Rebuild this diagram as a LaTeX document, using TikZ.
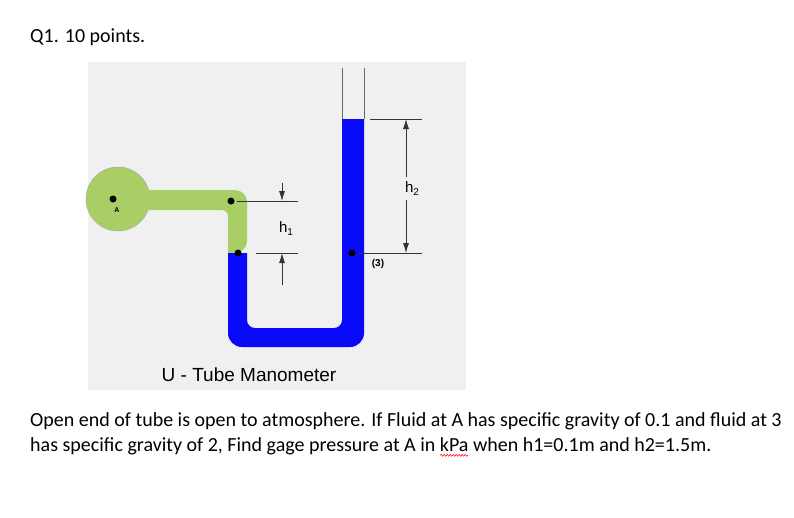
\documentclass[tikz,border=0pt]{standalone}
\usepackage{fontspec}
\setmainfont{Carlito}
\newfontfamily\arialf{Liberation Sans}
\usetikzlibrary{arrows.meta,decorations.pathmorphing}
\definecolor{bgg}{RGB}{240,240,240}
\definecolor{lgreen}{RGB}{170,206,102}
\definecolor{tblue}{RGB}{10,10,250}
\newcommand{\mysub}[1]{\raisebox{-3pt}{\fontsize{10}{11}\selectfont #1}}
\begin{document}
\begin{tikzpicture}[x=1pt,y=-1pt,
  wall/.style={draw=black!60,line width=0.8pt},
  dim/.style={draw=black!80,line width=0.8pt},
  arr/.style={dim,-{Latex[length=10pt,width=6pt]}},
  dot/.style={circle,fill=black,inner sep=0pt,minimum size=7pt},
  lbl/.style={font=\arialf\fontsize{15}{17}\selectfont,inner sep=0pt}]
\useasboundingbox[fill=white] (0,0) rectangle (794,517);
\fill[bgg] (88,62) rectangle (466,390);
% green
\fill[lgreen,draw=black!35,line width=0.4pt] (118,199) circle (32);
\fill[lgreen] (140,190) [rounded corners=12]-- (247,190) -- (247,253) [sharp corners]-- (228,253) [rounded corners=6]-- (228,210) -- (140,210) -- cycle;
% blue
\fill[tblue] (228,253) [rounded corners=14]-- (228,347) -- (364,347) [sharp corners]-- (364,119) -- (342,119) [rounded corners=8]-- (342,328) -- (247,328) [sharp corners]-- (247,253) -- cycle;
\draw[wall] (342,68) -- (342,119);
\draw[wall] (364,68) -- (364,119);
% dots
\node[dot] (A) at (113,199) {};
\node[lbl,font=\arialf\bfseries\fontsize{7}{8}\selectfont] (Al) at (117,210) {A};
\node[dot] (p1) at (231,201) {};
\node[dot] (p2) at (238,253) {};
\node[dot] (p3) at (352,253) {};
% h1
\coordinate (t1a) at (237,201); \coordinate (t1b) at (298,201);
\coordinate (b1a) at (256,253); \coordinate (b1b) at (298,253);
\draw[dim] (t1a) -- (t1b);
\draw[dim] (b1a) -- (b1b);
\coordinate (h1s) at (282,183); \coordinate (h1e) at (282,201);
\coordinate (h1s2) at (282,285); \coordinate (h1e2) at (282,253);
\draw[arr] (h1s) -- (h1e);
\draw[arr] (h1s2) -- (h1e2);
\node[lbl] (h1) at (286,229) {h\mysub{1}};
% h2
\coordinate (t2a) at (370,119); \coordinate (t2b) at (422,119);
\coordinate (b2a) at (358,253); \coordinate (b2b) at (422,253);
\draw[dim] (t2a) -- (t2b);
\draw[dim] (b2a) -- (b2b);
\node[lbl] (h2) at (412,189) {h\mysub{2}};
\coordinate (u1) at (406,177); \coordinate (u2) at (406,119);
\coordinate (d1) at (406,200); \coordinate (d2) at (406,253);
\draw[arr] (u1) -- (u2);
\draw[arr] (d1) -- (d2);
\node[lbl,font=\arialf\bfseries\fontsize{10}{12}\selectfont] (l3) at (378,264) {(3)};
\node[font=\arialf\fontsize{19}{22}\selectfont,inner sep=0pt] (title) at (249,375) {U - Tube Manometer};
% texts
\node[anchor=west,inner sep=0pt,font=\fontsize{20}{24}\selectfont] (q) at (30,37) {Q1. 10 points.};
\node[anchor=west,inner sep=0pt,font=\fontsize{20}{24}\selectfont] (p1t) at (30,421) {Open end of tube is open to atmosphere. If Fluid at A has specific gravity of 0.1 and fluid at 3};
\node[anchor=west,inner sep=0pt,font=\fontsize{20}{24}\selectfont] (p2t) at (30,447) {has specific gravity of 2, Find gage pressure at A in \rlap{\tikz[baseline,x=1pt,y=1pt]\draw[red,line width=0.5pt,decorate,decoration={snake,amplitude=1pt,segment length=3pt}] (0,-4) -- (28,-4);}kPa when h1=0.1m and h2=1.5m.};
\end{tikzpicture}
\end{document}
